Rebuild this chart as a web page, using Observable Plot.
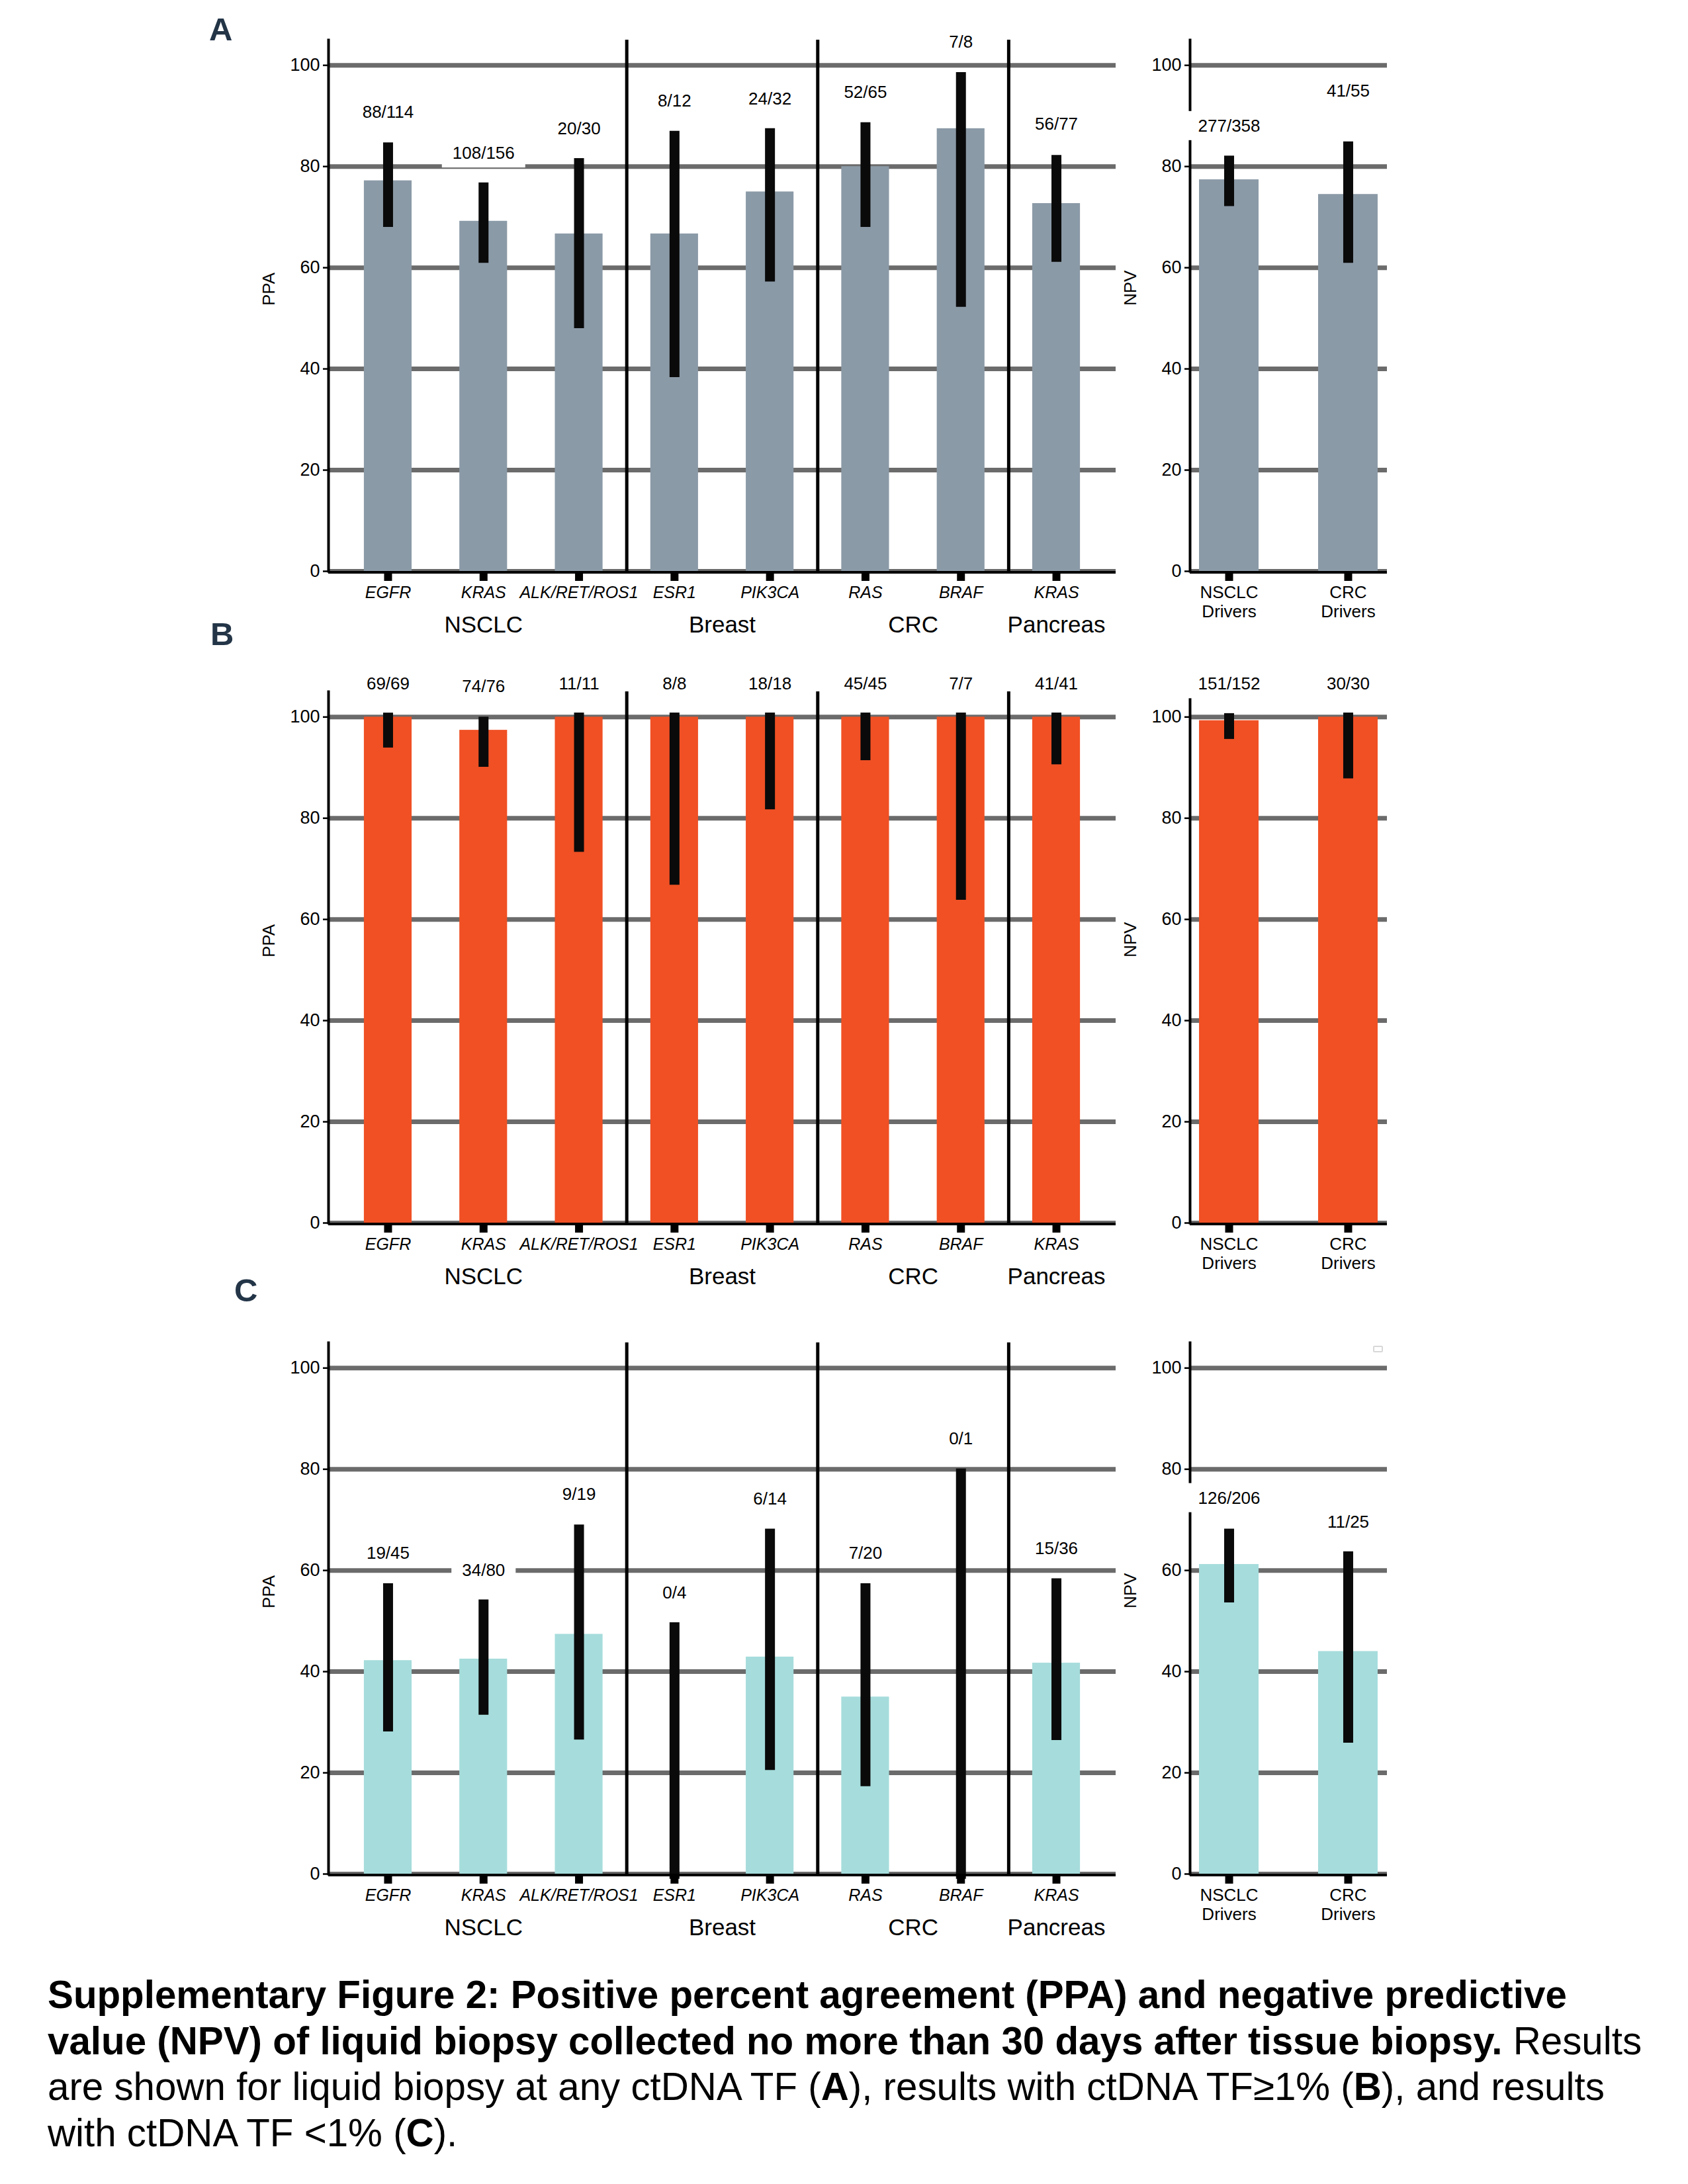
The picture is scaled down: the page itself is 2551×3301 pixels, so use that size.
<!DOCTYPE html>
<html><head><meta charset="utf-8">
<script src="https://cdn.jsdelivr.net/npm/d3@7"></script>
<script src="https://cdn.jsdelivr.net/npm/@observablehq/plot@0.6"></script>
<style>
html,body{margin:0;padding:0;background:#fff;}
#root{position:relative;width:2551px;height:3301px;overflow:hidden;font-family:"Liberation Sans",Arial,Helvetica,sans-serif;}
.panel{position:absolute;}
.tag{position:absolute;font-weight:bold;font-size:49px;color:#233547;line-height:1;}
#caption{position:absolute;left:72px;top:2980px;font-size:58.3px;line-height:69.6px;white-space:nowrap;color:#000;}
#emptylabel{position:absolute;left:2075px;top:2034px;width:11px;height:6px;border:2px solid #d8d8d8;border-radius:2px;}
</style></head><body><div id="root"></div>
<script>
// ---------- data ----------
const geneLabels = ["EGFR","KRAS","ALK/RET/ROS1","ESR1","PIK3CA","RAS","BRAF","KRAS"];
const geneCancer = ["NSCLC","NSCLC","NSCLC","Breast","Breast","CRC","CRC","Pancreas"];
const cancerLabels = ["NSCLC","Breast","CRC","Pancreas"];
const driverLabels = ["NSCLC\nDrivers","CRC\nDrivers"];
const percentTicks = [0,20,40,60,80,100];

// A: any ctDNA TF
const ppaA = [77.2, 69.2, 66.7, 66.7, 75.0, 80.0, 87.5, 72.7];
const ppaALow = [68.0, 60.9, 48.0, 38.3, 57.2, 68.0, 52.2, 61.1];
const ppaAHigh = [84.7, 76.8, 81.6, 87.0, 87.5, 88.7, 98.6, 82.2];
const ppaACounts = ["88/114","108/156","20/30","8/12","24/32","52/65","7/8","56/77"];
const ppaALabelY = [90.7, 82.6, 87.5, 93.0, 93.4, 94.6, 104.6, 88.4];
const npvA = [77.4, 74.5];
const npvALow = [72.1, 60.9];
const npvAHigh = [82.1, 84.9];
const npvACounts = ["277/358","41/55"];
const npvALabelY = [88.0, 94.9];

// B: ctDNA TF >= 1%
const ppaB = [100, 97.4, 100, 100, 100, 100, 100, 100];
const ppaBLow = [93.9, 90.1, 73.3, 66.8, 81.7, 91.4, 63.8, 90.6];
const ppaBHigh = [100.8, 100.0, 100.8, 100.8, 100.8, 100.8, 100.8, 100.8];
const ppaBCounts = ["69/69","74/76","11/11","8/8","18/18","45/45","7/7","41/41"];
const ppaBLabelY = [106.5, 106.0, 106.5, 106.5, 106.5, 106.5, 106.5, 106.5];
const npvB = [99.3, 100];
const npvBLow = [95.6, 87.8];
const npvBHigh = [100.7, 100.8];
const npvBCounts = ["151/152","30/30"];
const npvBLabelY = [106.5, 106.5];

// C: ctDNA TF < 1%
const ppaC = [42.2, 42.5, 47.4, 0, 42.9, 35.0, 0, 41.7];
const ppaCLow = [28.1, 31.4, 26.5, -1, 20.5, 17.3, -1, 26.4];
const ppaCHigh = [57.4, 54.2, 69.0, 49.7, 68.2, 57.4, 80.1, 58.4];
const ppaCCounts = ["19/45","34/80","9/19","0/4","6/14","7/20","0/1","15/36"];
const ppaCLabelY = [63.4, 60.0, 75.0, 55.6, 74.1, 63.4, 86.0, 64.3];
const npvC = [61.2, 44.0];
const npvCLow = [53.6, 25.9];
const npvCHigh = [68.2, 63.7];
const npvCCounts = ["126/206","11/25"];
const npvCLabelY = [74.3, 69.6];

const colorA = "#8b9aa7", colorB = "#f05024", colorC = "#a6dcdc";

// ---------- drawing ----------
const FONT = '"Liberation Sans", Arial, Helvetica, sans-serif';
const root = document.getElementById("root");

function makePanel({cats, vals, lo, hi, counts, labelY, fill, title, side}) {
  const n = cats.length;
  const rows = cats.map((c, k) => ({i: k + 1, v: vals[k], lo: lo[k], hi: hi[k], lab: counts[k], ly: labelY[k]}));
  const pad = side ? 0.328 : 0.6235;
  const half = 0.25;
  const marks = [
    Plot.ruleY(percentTicks, {stroke: "#6b6b6b", strokeWidth: 7}),
    Plot.rectY(rows, {x1: d => d.i - half, x2: d => d.i + half, y1: d => 0, y2: "v", fill})
  ];
  if (!side) {
    const seps = [];
    for (let k = 1; k < n; k++) if (geneCancer[k] !== geneCancer[k - 1]) seps.push(k + 0.5);
    marks.push(Plot.ruleX(seps, {stroke: "#000", strokeWidth: 5}));
  }
  marks.push(
    Plot.ruleX(rows, {x: "i", y1: "lo", y2: "hi", stroke: "#0a0a0a", strokeWidth: 15}),
    Plot.ruleY([0], {stroke: "#000", strokeWidth: 4, dy: 1.5}),
    Plot.frame({anchor: "left", stroke: "#000", strokeWidth: 4}),
    Plot.axisY({ticks: percentTicks, tickSize: 8, tickPadding: 5, strokeWidth: 2.5, fontSize: 27, label: null, fill: "#000", stroke: "#000"}),
    Plot.axisX({ticks: rows.map(d => d.i), tickFormat: i => cats[Math.round(i) - 1], tickSize: 15, strokeWidth: 12,
      tickPadding: 6, fontSize: side ? 26 : 25, fontStyle: side ? "normal" : "italic", lineHeight: 1.08, label: null, fill: "#000", stroke: "#000"})
  );
  if (!side) {
    const groupPos = cancerLabels.map(g => d3.mean(rows.filter((d, k) => geneCancer[k] === g), d => d.i));
    marks.push(Plot.axisX({ticks: groupPos, tickFormat: p => cancerLabels[groupPos.indexOf(p)], tickSize: 0, tickPadding: 68, fontSize: 35, label: null, fill: "#000"}));
  }
  marks.push(
    Plot.text([title], {frameAnchor: "left", dx: -90, rotate: -90, fontSize: 26, fill: "#000"}),
    Plot.text(rows, {x: "i", y: "ly", text: "lab", fontSize: 26, fill: "#000", className: "count-label"})
  );
  return Plot.plot({
    width: side ? 486 : 1720,
    height: 983,
    marginLeft: side ? 148 : 496,
    marginRight: side ? 40 : 34,
    marginTop: 60,
    marginBottom: 120,
    x: {domain: [1 - pad, n + pad]},
    y: {domain: [0, 105]},
    style: {fontFamily: FONT, overflow: "visible", maxWidth: "none", background: "transparent", color: "#000"},
    marks
  });
}

function place(svg, left, top) {
  const div = document.createElement("div");
  div.className = "panel";
  div.style.left = left + "px";
  div.style.top = top + "px";
  div.appendChild(svg);
  root.appendChild(div);
}

const rowsSpec = [
  {top: 0, ppa: [ppaA, ppaALow, ppaAHigh, ppaACounts, ppaALabelY], npv: [npvA, npvALow, npvAHigh, npvACounts, npvALabelY], fill: colorA},
  {top: 985, ppa: [ppaB, ppaBLow, ppaBHigh, ppaBCounts, ppaBLabelY], npv: [npvB, npvBLow, npvBHigh, npvBCounts, npvBLabelY], fill: colorB},
  {top: 1969, ppa: [ppaC, ppaCLow, ppaCHigh, ppaCCounts, ppaCLabelY], npv: [npvC, npvCLow, npvCHigh, npvCCounts, npvCLabelY], fill: colorC}
];

for (const r of rowsSpec) {
  const [v, lo, hi, c, ly] = r.ppa;
  place(makePanel({cats: geneLabels, vals: v, lo, hi, counts: c, labelY: ly, fill: r.fill, title: "PPA", side: false}), 0, r.top);
  const [v2, lo2, hi2, c2, ly2] = r.npv;
  place(makePanel({cats: driverLabels, vals: v2, lo: lo2, hi: hi2, counts: c2, labelY: ly2, fill: r.fill, title: "NPV", side: true}), 1650, r.top);
}

// white label boxes behind the count labels (like ggplot geom_label)
document.querySelectorAll(".count-label text").forEach(t => {
  const bb = t.getBBox();
  const rect = document.createElementNS("http://www.w3.org/2000/svg", "rect");
  rect.setAttribute("x", bb.x - 16);
  rect.setAttribute("y", bb.y - 7);
  rect.setAttribute("width", bb.width + 32);
  rect.setAttribute("height", bb.height + 14);
  rect.setAttribute("fill", "#fff");
  const tr = t.getAttribute("transform");
  if (tr) rect.setAttribute("transform", tr);
  t.parentNode.insertBefore(rect, t);
});

// panel tags
[["A", 316, 20], ["B", 318, 934], ["C", 354, 1926]].forEach(([s, x, y]) => {
  const d = document.createElement("div");
  d.className = "tag"; d.textContent = s;
  d.style.left = x + "px"; d.style.top = y + "px";
  root.appendChild(d);
});

// small empty label artifact seen in panel C (right)
const el = document.createElement("div");
el.id = "emptylabel";
root.appendChild(el);

// caption
const cap = document.createElement("div");
cap.id = "caption";
cap.innerHTML = "<b>Supplementary Figure 2: Positive percent agreement (PPA) and negative predictive</b><br>" +
  "<b>value (NPV) of liquid biopsy collected no more than 30 days after tissue biopsy.</b> Results<br>" +
  "are shown for liquid biopsy at any ctDNA TF (<b>A</b>), results with ctDNA TF\u22651% (<b>B</b>), and results<br>" +
  "with ctDNA TF &lt;1% (<b>C</b>).";
root.appendChild(cap);
</script></body></html>
